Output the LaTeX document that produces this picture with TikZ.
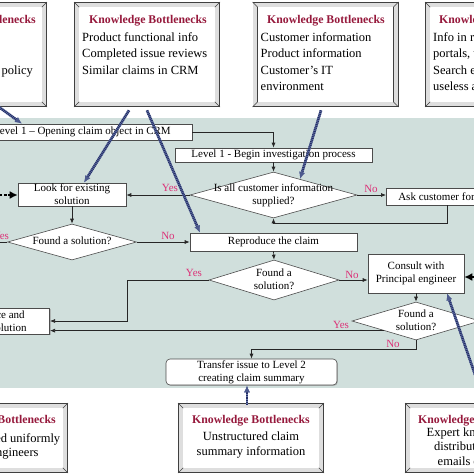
\documentclass[tikz,border=0pt]{standalone}
\usepackage{fontspec}
\setmainfont{Liberation Serif}
\usetikzlibrary{shapes.geometric,arrows.meta,shadows}
\definecolor{band}{RGB}{208,223,220}
\definecolor{kbred}{RGB}{150,25,60}
\definecolor{yn}{RGB}{220,50,120}
\definecolor{hatchdark}{RGB}{35,45,100}
\definecolor{hatchlight}{RGB}{105,120,170}
\definecolor{bevelgray}{RGB}{222,222,222}
\newcommand{\ztext}[1]{\smash{\raisebox{-0.25em}{\makebox[0pt]{\begin{tabular}{@{}c@{}}#1\end{tabular}}}}}
\newcommand{\fsf}{\fontsize{11}{13}\selectfont}
\newcommand{\fsk}{\fontsize{12.5}{16}\selectfont}
\newcommand{\fst}{\fontsize{11.8}{14}\selectfont\bfseries}
\begin{document}
\begin{tikzpicture}[x=1pt,y=-1pt,
  kb/.style={draw=black!75, line width=0.6pt, double=bevelgray, double distance=4pt, fill=white, minimum width=140.8pt, minimum height=99.8pt, inner sep=0pt, outer sep=0pt},
  kbs/.style={kb, minimum height=64.8pt},
  kbt/.style={font=\fst, text=kbred, inner sep=0pt, anchor=base},
  kbl/.style={font=\fsk, inner sep=0pt, anchor=base west},
  kbc/.style={font=\fsk, inner sep=0pt, anchor=base},
  bev/.style={draw=black!75, line width=0.5pt},
  fbox/.style={draw=black!70, fill=white, line width=0.6pt, inner sep=0pt, font=\fsf, align=center, drop shadow={shadow xshift=0.9pt, shadow yshift=-0.9pt, fill=black!40, opacity=0.6}},
  dia/.style={diamond, draw=black!70, fill=white, line width=0.6pt, inner sep=0pt, font=\fsf},
  arr/.style={draw=black!85, line width=0.7pt, -{Latex[length=5pt,width=4pt]}},
  plainline/.style={draw=black!85, line width=0.7pt},
  fat/.style={draw=black, line width=2.4pt, dash pattern=on 2.4pt off 1.8pt, -{Latex[length=8pt,width=8pt]}},
  hatch/.style={draw=hatchdark, line width=2.6pt, dash pattern=on 0.9pt off 0.9pt, -{Latex[length=7pt,width=6pt,color=hatchlight!60!hatchdark]}, preaction={draw=hatchlight, line width=2.6pt, -{Latex[length=7pt,width=6pt]}}},
  lbl/.style={text=yn, font=\fsf, inner sep=0pt}
]
\useasboundingbox (0,0) rectangle (474,474);
\clip (0,0) rectangle (474,474);
\fill[white] (0,0) rectangle (474,474);
\fill[band] (0,118) rectangle (474,388);

% knowledge bottleneck frames
\node[kb] (kbA) at (-26,54.5) {};
\node[kb] (kbB) at (147,54.5) {};
\node[kb] (kbC) at (325.5,54.5) {};
\node[kb] (kbD) at (498,54.5) {};
\node[kbs] (kbE) at (-5,438) {};
\node[kbs] (kbF) at (251,438) {};
\node[kbs] (kbG) at (478,438) {};
\foreach \bx in {kbA,kbB,kbC,kbD,kbE,kbF,kbG}{
  \draw[bev] ([shift={(-2.6,-2.6)}]\bx.north west) -- ([shift={(2.6,2.6)}]\bx.north west);
  \draw[bev] ([shift={(2.6,-2.6)}]\bx.north east) -- ([shift={(-2.6,2.6)}]\bx.north east);
  \draw[bev] ([shift={(-2.6,2.6)}]\bx.south west) -- ([shift={(2.6,-2.6)}]\bx.south west);
  \draw[bev] ([shift={(2.6,2.6)}]\bx.south east) -- ([shift={(-2.6,-2.6)}]\bx.south east);
}
\node[kbt] (tA) at (-23,23) {Knowledge Bottlenecks};
\node[kbt] (tB) at (148,23) {Knowledge Bottlenecks};
\node[kbt] (tC) at (326,23) {Knowledge Bottlenecks};
\node[kbt] (tD) at (498,23) {Knowledge Bottlenecks};
\node[kbt] (tE) at (-3,423) {Knowledge Bottlenecks};
\node[kbt] (tF) at (251,423) {Knowledge Bottlenecks};
\node[kbt] (tG) at (477,423) {Knowledge Bottlenecks};

\node[kbl] (a1) at (-91,41.5) {Warranty terms};
\node[kbl] (a2) at (-91,57.5) {Service contracts};
\node[kbl] (a3) at (-91,74) {Customer support policy};
\node[kbl] (b1) at (82,41.5) {Product functional info};
\node[kbl] (b2) at (82,57.5) {Completed issue reviews};
\node[kbl] (b3) at (82,74) {Similar claims in CRM};
\node[kbl] (c1) at (260.5,41.5) {Customer information};
\node[kbl] (c2) at (260.5,57.5) {Product information};
\node[kbl] (c3) at (260.5,74) {Customer’s IT};
\node[kbl] (c4) at (260.5,90.5) {environment};
\node[kbl] (d1t) at (433,41.5) {Info in remote};
\node[kbl] (d2t) at (433,57.5) {portals, wikis};
\node[kbl] (d3t) at (433,74) {Search engine};
\node[kbl] (d4t) at (433,90.5) {useless and slow};
\node[kbc] (e1) at (-4,442) {Not distributed uniformly};
\node[kbc] (e2) at (-4,456) {among engineers};
\node[kbc] (f1) at (251,440) {Unstructured claim};
\node[kbc] (f2) at (251,455) {summary information};
\node[kbc] (g1) at (478,436) {Expert knowledge is};
\node[kbc] (g2) at (478,450.5) {distributed across};
\node[kbc] (g3) at (478,465) {emails chat logs};

% flowchart
\node[fbox, minimum width=220pt, minimum height=16pt] (n1) at (82,132) {Level 1 – Opening claim object in CRM};
\node[fbox, minimum width=197pt, minimum height=14pt] (n2) at (273.5,155) {Level 1 - Begin investigation process};
\node[dia, minimum width=167pt, minimum height=46pt] (d1) at (273.5,195) {\ztext{Is all customer information\\supplied?}};
\node[fbox, anchor=west, minimum height=17pt, inner xsep=12pt] (n4) at (386,196.5) {Ask customer for information};
\node[fbox, minimum width=108pt, minimum height=23pt] (n3) at (72,194.5) {Look for existing\\solution};
\node[dia, minimum width=129pt, minimum height=36pt] (d2) at (72,242) {\ztext{Found a solution?}};
\node[fbox, minimum width=167pt, minimum height=18pt] (n5) at (273.5,242) {Reproduce the claim};
\node[dia, minimum width=130pt, minimum height=40pt] (d3) at (274,280) {\ztext{Found a\\solution?}};
\node[fbox, minimum width=96pt, minimum height=39pt] (n7) at (416,273.5) {Consult with\\Principal engineer};
\node[dia, minimum width=128pt, minimum height=38pt] (d4) at (416,321) {\ztext{Found a\\solution?}};
\node[fbox, anchor=east, minimum width=144pt, minimum height=26pt] (n6) at (50,321) {Share experience and\\document the solution};
\node[fbox, rounded corners=4pt, minimum width=171pt, minimum height=26pt] (n8) at (251.5,372) {Transfer issue to Level 2\\creating claim summary};

\coordinate (cL) at (0,195);
\coordinate (cY) at (0,242);
\coordinate (cR) at (474,277);

\draw[arr] (n1.east) -| (n2.north);
\draw[arr] (n2.south) -- (d1.north);
\draw[arr] (d1.west) -- (d1.west -| n3.east);
\draw[arr] (d1.east) -- (d1.east -| n4.west);
\draw[arr] ([xshift=61pt]n4.south west) -- ++(0,18) -| (d1.south);
\draw[fat] (cL) -- (cL -| n3.west);
\draw[arr] (n3.south) -- (d2.north);
\draw[plainline] (d2.west) -- (cY);
\draw[arr] (d2.east) -- (n5.west);
\draw[arr] (n5.south) -- (d3.north);
\draw[arr] (d3.west) -- ++(-81,0) |- (n6.east);
\draw[arr] (d3.east) -- (d3.east -| n7.west);
\draw[fat] (cR) -- (cR -| n7.east);
\draw[arr] (n7.south) -- (d4.north);
\draw[arr] (d4.south west) -- (d4.south west -| n6.east);
\draw[arr] (d4.south) -- ++(0,9) -| (n8.north);

\node[lbl] (l1) at (170,188) {Yes};
\node[lbl] (l2) at (371,188.5) {No};
\node[lbl] (l3) at (1,236) {Yes};
\node[lbl] (l4) at (168,236) {No};
\node[lbl] (l5) at (194,273) {Yes};
\node[lbl] (l6) at (352,274.5) {No};
\node[lbl] (l7) at (341,325) {Yes};
\node[lbl] (l8) at (393,344) {No};

% knowledge links
\draw[hatch] ([shift={(24,2)}]kbA.south) -- ([shift={(-60,0)}]n1.north);
\draw[hatch] ([shift={(-18,6)}]kbB.south) -- ([shift={(12,0)}]n3.north);
\draw[hatch] ([shift={(0,6)}]kbB.south) -- ([shift={(-73.5,0)}]n5.north);
\draw[hatch] ([shift={(-4.5,6)}]kbC.south) -- ([shift={(26.5,7.3)}]d1.north);
\draw[hatch] ([shift={(7,-2)}]kbG.north) -- ([shift={(31,0)}]n7.south);
\draw[hatch] ([shift={(-4,-1)}]kbF.north) -- ([shift={(-4.5,0)}]n8.south);
\end{tikzpicture}
\end{document}
